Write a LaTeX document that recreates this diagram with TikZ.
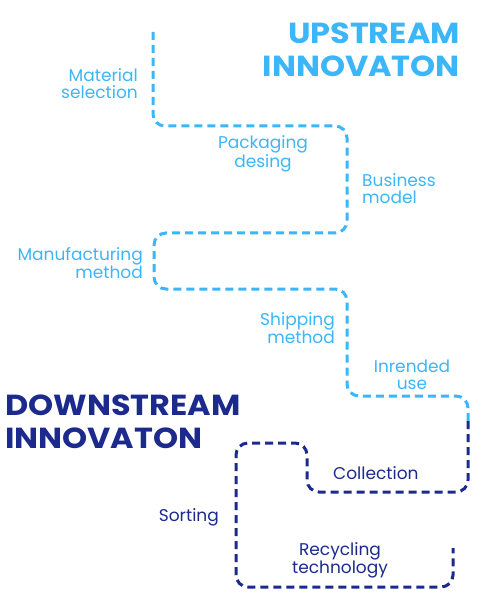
\documentclass[tikz,border=0pt]{standalone}
\usepackage{fontspec}
\setmainfont{Poppins}
\newfontfamily\titlefont[FakeStretch=1.1]{Poppins Bold}
\definecolor{upblue}{HTML}{3BB6F8}
\definecolor{downblue}{HTML}{1C2A8E}
\begin{document}
\begin{tikzpicture}[x=1pt,y=-1pt,
  flow/.style={line width=3pt,dash pattern=on 8pt off 5pt,rounded corners=12pt},
  lbl/.style={inner sep=0pt,font=\fontsize{17}{16.8}\selectfont},
  ttl/.style={inner sep=0pt,font=\fontsize{29}{33}\titlefont}]
\useasboundingbox (0,0) rectangle (480,601);
% path points
\coordinate (p0) at (153,32);
\coordinate (p1) at (153,126);
\coordinate (p2) at (347,126);
\coordinate (p3) at (347,233);
\coordinate (p4) at (154,233);
\coordinate (p5) at (154,289);
\coordinate (p6) at (347,289);
\coordinate (p7) at (347,396);
\coordinate (p8) at (468,396);
\coordinate (m) at (468,421);
\coordinate (q1) at (468,492);
\coordinate (q2) at (307,492);
\coordinate (q3) at (307,443);
\coordinate (q4) at (236,443);
\coordinate (q5) at (236,587);
\coordinate (q6) at (453,587);
\coordinate (q7) at (453,548);
\draw[flow,upblue] (p0) -- (p1) -- (p2) -- (p3) -- (p4) -- (p5) -- (p6) -- (p7) -- (p8) -- (m);
\draw[flow,downblue] (m) -- (q1) -- (q2) -- (q3) -- (q4) -- (q5) -- (q6) -- (q7);
% titles
\node[ttl,upblue,align=right,anchor=east] (up) at (460,50) {UPSTREAM\\INNOVATON};
\node[ttl,downblue,align=left,anchor=west] (down) at (5,422) {DOWNSTREAM\\INNOVATON};
% labels
\node[lbl,upblue,align=right,anchor=east] (l1) at (138,84) {Material\\selection};
\node[lbl,upblue,align=center] (l2) at (263,154) {Packaging\\desing};
\node[lbl,upblue,align=left,anchor=west] (l3) at (362,189) {Business\\model};
\node[lbl,upblue,align=right,anchor=east] (l4) at (143,263) {Manufacturing\\method};
\node[lbl,upblue,align=right,anchor=east] (l5) at (335,328) {Shipping\\method};
\node[lbl,upblue,align=center] (l6) at (412,375) {Inrended\\use};
\node[lbl,downblue,anchor=west] (l7) at (333,473) {Collection};
\node[lbl,downblue,anchor=east] (l8) at (219,517) {Sorting};
\node[lbl,downblue,align=center] (l9) at (340,560) {Recycling\\technology};
\end{tikzpicture}
\end{document}
